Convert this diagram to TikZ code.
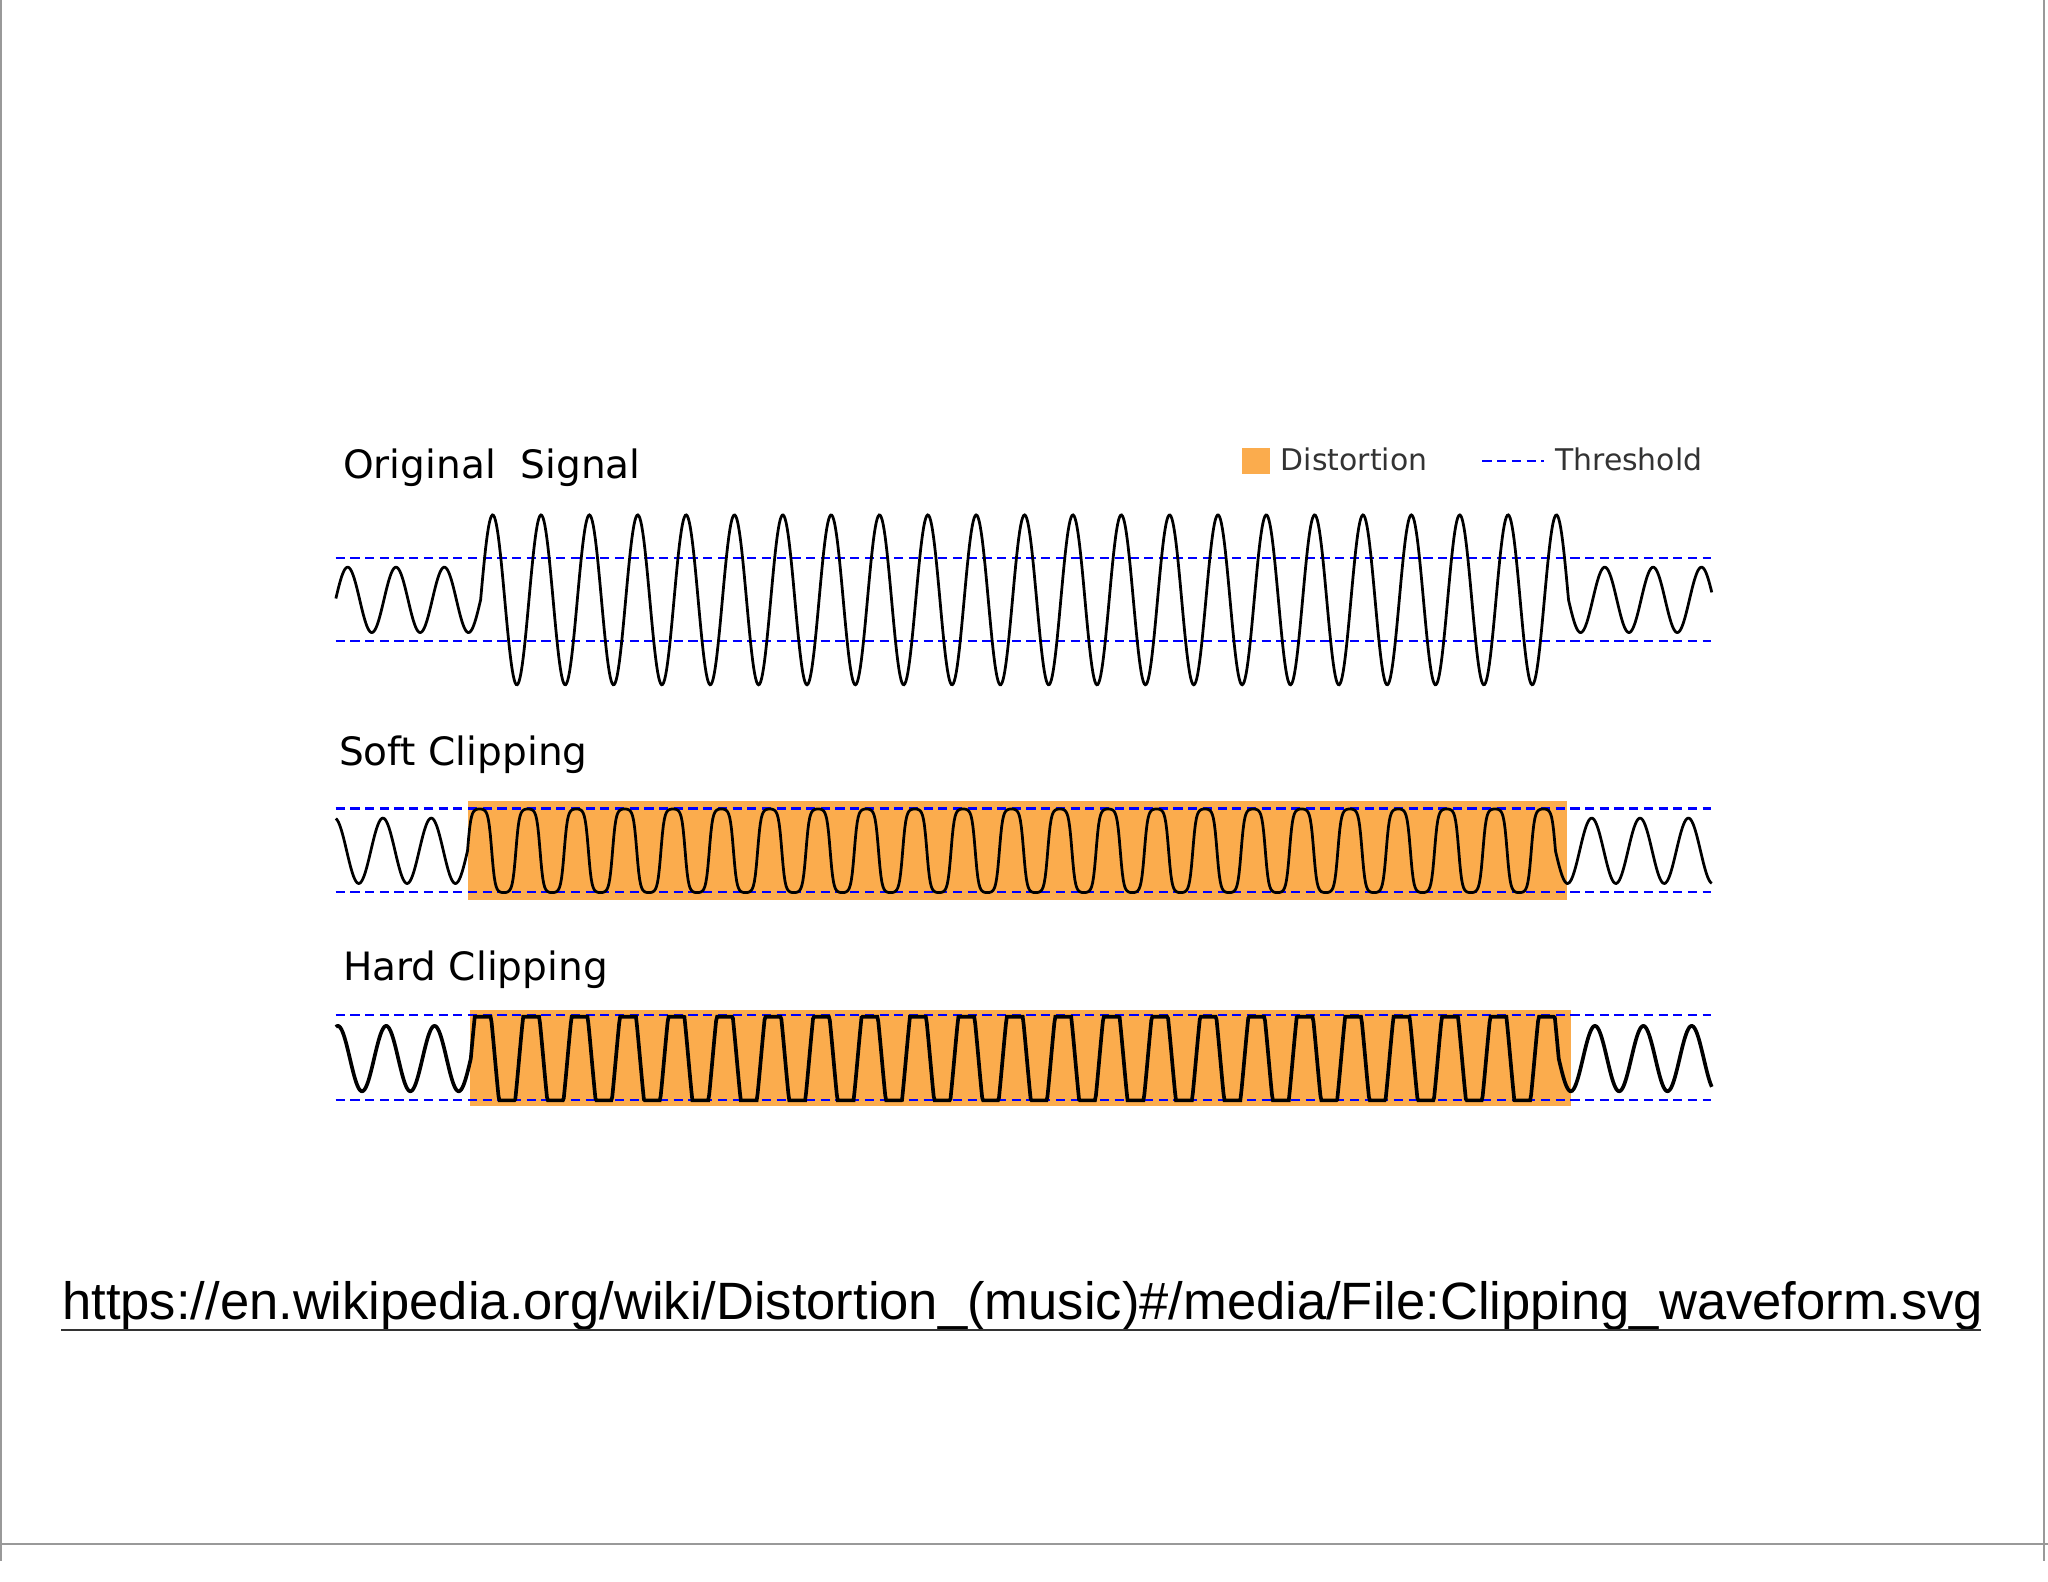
\documentclass[tikz,border=0pt]{standalone}
\usepackage{fontspec}
\setmainfont{DejaVu Sans}
\newfontfamily\urlfont{Liberation Sans}
\definecolor{distor}{RGB}{251,172,77}
\begin{document}
\begin{tikzpicture}[x=0.01cm,y=-0.01cm,
  frame/.style={draw=gray!80,line width=0.5pt},
  thr/.style={draw=blue,dashed,line width=0.45pt,dash pattern=on 2pt off 1.2pt},
  wave/.style={draw=black,line width=0.6pt},
  ttl/.style={anchor=base west,inner sep=0pt,font=\fontsize{8.5pt}{10pt}\selectfont},
  leg/.style={anchor=base west,inner sep=0pt,font=\fontsize{6.5pt}{8pt}\selectfont,text=black!80}]
\useasboundingbox (0,0) rectangle (1568,1211);
\fill[white] (0,0) rectangle (1568,1211);
% frame
\draw[frame] (1,0) -- (1,1195);
\draw[frame] (1565,0) -- (1565,1195);
\draw[frame] (0,1182) -- (1568,1182);
% titles
\node[ttl] (t1) at (262,366) {Original\ \ Signal};
\node[ttl] (t2) at (259,586) {Soft Clipping};
\node[ttl] (t3) at (262,751) {Hard Clipping};
% legend
\fill[distor] (951,343) rectangle (972,363);
\node[leg] (l1) at (980,360) {Distortion};
\draw[thr] (1135,353) -- (1182,353);
\node[leg] (l2) at (1190,360) {Threshold};
% distortion boxes
\fill[distor] (358,613) rectangle (1200,689);
\fill[distor] (360,773) rectangle (1203,847);
% thresholds
\foreach \y in {427,491,619,683,777,842}{\draw[thr] (257,\y) -- (1310,\y);}
\begin{scope}[x=1cm,y=-1cm]
% original
\draw[wave] plot[domain=2.57:3.6775,samples=150] (\x,{4.59-0.25*sin(360*(\x-3.6775)/0.37)})
  -- plot[domain=3.6775:12.0025,samples=1100] (\x,{4.59-0.65*sin(360*(\x-3.6775)/0.37)})
  -- plot[domain=12.0025:13.10,samples=150] (\x,{4.59-0.25*sin(360*(\x-3.6775)/0.37)});
% soft
\draw[wave] plot[domain=2.57:3.5775,samples=150] (\x,{6.51-0.25*sin(360*(\x-3.5775)/0.37)})
  -- plot[domain=3.5775:11.9025,samples=1100] (\x,{6.51-0.32*tanh(2.2*sin(360*(\x-3.5775)/0.37))/tanh(2.2)})
  -- plot[domain=11.9025:13.10,samples=150] (\x,{6.51-0.25*sin(360*(\x-3.5775)/0.37)});
% hard
\draw[wave,line width=0.8pt] plot[domain=2.57:3.6025,samples=150] (\x,{8.10-0.25*sin(360*(\x-3.6025)/0.37)})
  -- plot[domain=3.6025:11.9275,samples=1100] (\x,{8.10-max(-0.32,min(0.32,0.65*sin(360*(\x-3.6025)/0.37)))})
  -- plot[domain=11.9275:13.10,samples=150] (\x,{8.10-0.25*sin(360*(\x-3.6025)/0.37)});
\end{scope}
% url
\node[anchor=base west,inner sep=0pt] (url) at (47,1010) {\resizebox{14.7cm}{!}{\urlfont https://en.wikipedia.org/wiki/Distortion\_(music)\#/media/File:Clipping\_waveform.svg}};
\draw[black!80,line width=0.5pt] (47,1018) -- (1517,1018);
\end{tikzpicture}
\end{document}
